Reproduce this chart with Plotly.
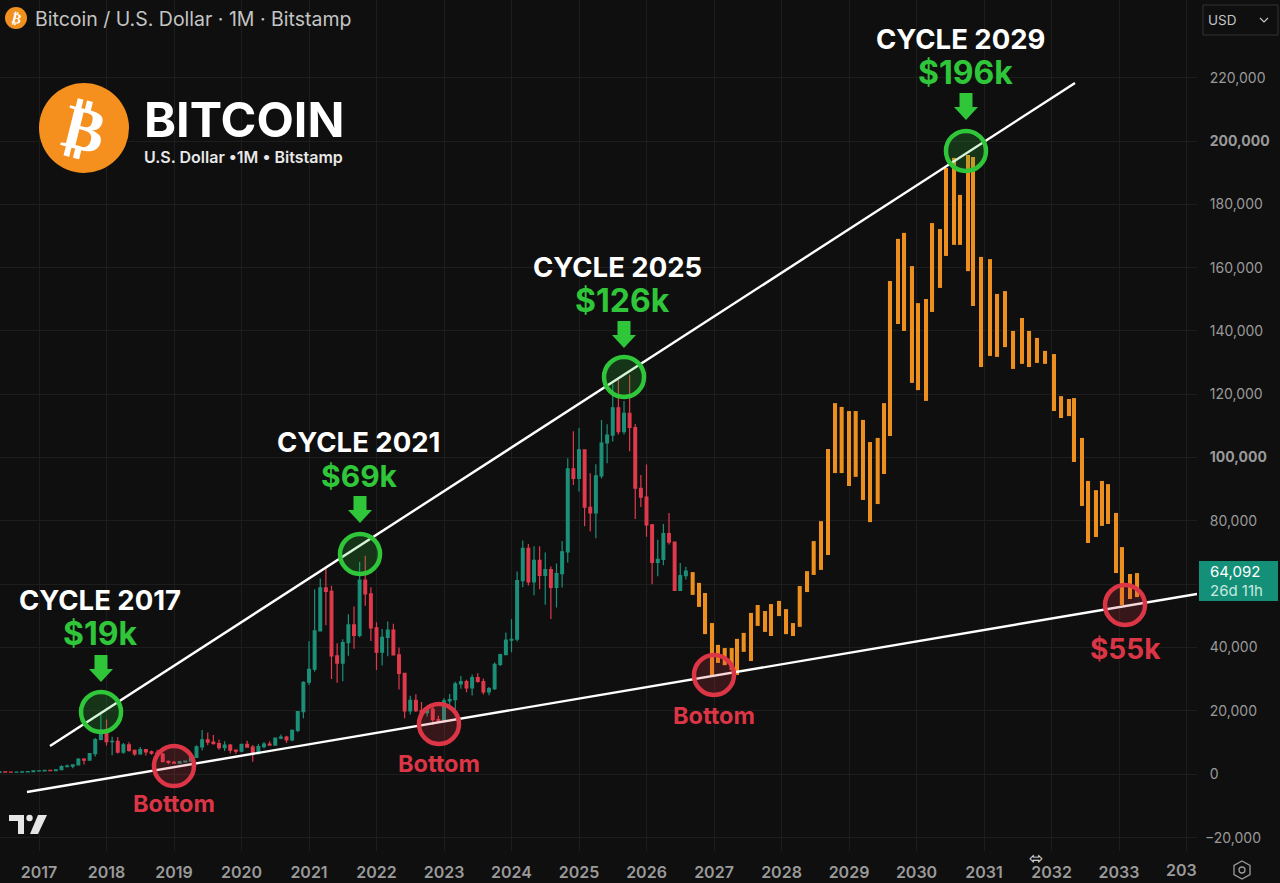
import plotly.graph_objects as go

# Monthly candles, one per month starting June 2016
candle_start = 2016 + 5 / 12
candle_open = [
    531, 672, 624, 575, 608, 700, 745,
    965, 970, 1190, 1080, 1350, 2300, 2480, 2870, 4730, 4340, 6450, 10900,
    13880, 10260, 10300, 6925, 9240, 7490, 6390, 7730, 7010, 6625, 6300, 4020,
    3690, 3440, 3815, 4100, 5265, 8550, 10820, 10090, 9590, 8290, 9150, 7540,
    7190, 9350, 8520, 6410, 8620, 9450, 9135, 11350, 11650, 10780, 13800, 19700,
    29000, 33100, 45200, 58800, 57700, 37300, 35040, 41490, 47100, 43800, 61300, 56900,
    46200, 38480, 43170, 45500, 37640, 31800, 19930, 23300, 20050, 19420, 20490, 17170,
    16530, 23130, 23480, 28470, 29230, 27210, 30470, 29230, 25940, 26960, 34650, 37720,
    42280, 42580, 61130, 71280, 60670, 67490, 62770, 64620, 58970, 63330, 70200, 96400,
    93400, 102400, 84300, 82500, 94200, 104600, 107100, 115700, 108200, 114000, 109500, 90300,
    87500, 78700, 66900, 67800, 76000, 73300, 58000, 62700,
]
candle_high = [
    775, 700, 625, 630, 740, 775, 975,
    1150, 1200, 1290, 1350, 2760, 2980, 2915, 4980, 4980, 6450, 11400, 19666,
    17200, 11790, 11700, 9760, 10000, 7770, 8500, 7750, 7400, 7680, 6600, 4230,
    4070, 4180, 4130, 5640, 9070, 13880, 13140, 12320, 10900, 10370, 9510, 7750,
    9580, 10500, 9190, 9460, 10080, 10380, 11440, 12480, 12080, 14100, 19900, 29300,
    41950, 58350, 61780, 64900, 59500, 41300, 42590, 50500, 52900, 67000, 69000, 59000,
    47950, 45800, 48200, 47450, 40000, 31960, 24700, 25200, 22790, 20990, 21480, 18380,
    23900, 25250, 29190, 31000, 29800, 31440, 31800, 30200, 27480, 35200, 38000, 44700,
    48970, 64000, 73800, 72700, 71950, 71940, 70000, 65600, 66500, 73600, 99800, 108300,
    109350, 102500, 95000, 97900, 111900, 110500, 123200, 124500, 117900, 126200, 110600, 94500,
    97800, 79000, 74000, 79000, 82500, 73400, 66700, 65500,
]
candle_low = [
    520, 460, 465, 570, 600, 680, 740,
    750, 935, 890, 1080, 1350, 2100, 1830, 2700, 2970, 4160, 5500, 10700,
    9000, 5900, 6500, 6430, 7000, 5750, 6070, 5880, 6100, 6200, 3650, 3120,
    3340, 3390, 3670, 4090, 5330, 7450, 9100, 9350, 7700, 7300, 6500, 6430,
    6860, 8410, 3850, 6150, 8100, 8900, 8950, 10980, 9820, 10370, 13200, 17600,
    28130, 32300, 45000, 47000, 30000, 28800, 29300, 37330, 39600, 43200, 53200, 42000,
    32900, 34300, 37200, 37700, 26700, 17600, 18800, 19600, 18200, 18200, 15480, 16300,
    16500, 21400, 19550, 26940, 25800, 24800, 28860, 25160, 24900, 26540, 34100, 37630,
    38500, 41880, 59000, 59600, 56500, 58400, 53500, 49000, 52600, 58900, 66800, 91300,
    89250, 78250, 76600, 74500, 93350, 98200, 105100, 107300, 107300, 102000, 80600, 84400,
    75000, 60000, 62500, 66000, 72500, 57900, 57900, 61500,
]
candle_close = [
    672, 624, 575, 608, 700, 745, 965,
    970, 1190, 1080, 1350, 2300, 2480, 2870, 4730, 4340, 6450, 10900, 13880,
    10260, 10300, 6925, 9240, 7490, 6390, 7730, 7010, 6625, 6300, 4020, 3690,
    3440, 3815, 4100, 5265, 8550, 10820, 10090, 9590, 8290, 9150, 7540, 7190,
    9350, 8520, 6410, 8620, 9450, 9135, 11350, 11650, 10780, 13800, 19700, 29000,
    33100, 45200, 58800, 57700, 37300, 35040, 41490, 47100, 43800, 61300, 56900, 46200,
    38480, 43170, 45500, 37640, 31800, 19930, 23300, 20050, 19420, 20490, 17170, 16530,
    23130, 23480, 28470, 29230, 27210, 30470, 29230, 25940, 26960, 34650, 37720, 42280,
    42580, 61130, 71280, 60670, 67490, 62770, 64620, 58970, 63330, 70200, 96400, 93400,
    102400, 84300, 82500, 94200, 104600, 107100, 115700, 108200, 114000, 109500, 90300, 87500,
    78700, 66900, 67800, 76000, 73300, 58000, 62700, 64092,
]
candle_x = [candle_start + i / 12 for i in range(len(candle_open))]

# Orange projection bars
proj_year = [
    2026.684, 2026.778, 2026.867, 2026.970, 2027.059, 2027.159, 2027.262, 2027.341,
    2027.440, 2027.548, 2027.647, 2027.756, 2027.844, 2027.963, 2028.067, 2028.170,
    2028.270, 2028.378, 2028.477, 2028.585, 2028.689, 2028.793, 2028.891, 2029.000,
    2029.099, 2029.207, 2029.311, 2029.425, 2029.519, 2029.607, 2029.726, 2029.815,
    2029.933, 2030.022, 2030.141, 2030.230, 2030.348, 2030.437, 2030.556, 2030.644,
    2030.763, 2030.837, 2030.956, 2031.089, 2031.193, 2031.311, 2031.430, 2031.563,
    2031.667, 2031.785, 2031.904, 2032.037, 2032.141, 2032.259, 2032.333, 2032.452,
    2032.541, 2032.659, 2032.748, 2032.837, 2032.956, 2033.044, 2033.163, 2033.267,
]
proj_high = [
    63800, 60400, 57200, 47700, 40800, 39800, 39800, 42700,
    44600, 50900, 53400, 51500, 53700, 54700, 52100, 47700,
    59400, 64100, 73600, 79900, 102700, 117200, 116000, 114700,
    114700, 111900, 104900, 106200, 117200, 155800, 169100, 171000,
    160500, 148800, 150100, 174100, 172200, 191500, 194700, 183000,
    195600, 195000, 163400, 162700, 151700, 152600, 140000, 144100,
    140000, 137800, 133700, 132700, 119400, 118500, 118800, 106200,
    92600, 89700, 92600, 91600, 82500, 71700, 63200, 63500,
]
proj_low = [
    56600, 52800, 44200, 30700, 35100, 34400, 32900, 31300,
    38600, 35700, 46800, 44900, 43600, 49900, 44200, 43600,
    46500, 57500, 62900, 64500, 69200, 95100, 95100, 91000,
    93900, 86600, 79600, 85300, 94800, 106800, 142200, 140000,
    123600, 121300, 117900, 146000, 153600, 163700, 167200, 167200,
    158900, 147900, 128600, 132100, 131800, 134900, 128000, 129600,
    128600, 129900, 129600, 114700, 112500, 113100, 98600, 84700,
    73000, 74900, 78400, 79000, 63500, 53400, 55300, 55900,
]

# Trend lines
upper_x = [2017.163, 2032.348]
upper_y = [8850, 218350]
lower_x = [2016.822, 2034.156]
lower_y = [-5700, 56900]

# Circled tops and bottoms
top_x = [2017.919, 2021.756, 2025.667, 2030.733]
top_y = [19600, 69500, 125450, 196900]
bottom_x = [2019.0, 2022.926, 2027.0, 2033.089]
bottom_y = [2500, 15800, 31300, 53400]

year_ticks = list(range(2017, 2035))
year_labels = [str(y) for y in range(2017, 2034)] + [""]
price_ticks = list(range(-20000, 220001, 20000))
# 60,000 sits behind the price tag and -20,000 hangs left, drawn separately
price_labels = []
for p in price_ticks:
    if p in (100000, 200000):
        price_labels.append("<b>%s</b>" % format(p, ","))
    elif p in (60000, -20000):
        price_labels.append("")
    else:
        price_labels.append(format(p, ","))

BG = "#0f0f0f"
GRID = "#1d1d1d"
TEAL = "#1c8f78"
RED = "#e03a4c"
ORANGE = "#ec8f1e"
GREEN = "#2fc63a"
ALERT = "#dc3545"
FONT = "Inter"

PLOT_W = 1197
PLOT_H = 851


def px_x(px):
    return px / PLOT_W


def px_y(py):
    return (PLOT_H - py) / PLOT_H


def path(points, close=True):
    s = "M " + " L ".join("%.5f,%.5f" % (px_x(a), px_y(b)) for a, b in points)
    return s + (" Z" if close else "")


fig = go.Figure()

fig.add_trace(go.Candlestick(
    x=candle_x, open=candle_open, high=candle_high, low=candle_low, close=candle_close,
    increasing=dict(line=dict(color=TEAL, width=1.2), fillcolor=TEAL),
    decreasing=dict(line=dict(color=RED, width=1.2), fillcolor=RED),
    whiskerwidth=0,
    showlegend=False,
))

fig.add_trace(go.Bar(
    x=proj_year,
    y=[h - l for h, l in zip(proj_high, proj_low)],
    base=proj_low,
    width=0.06,
    marker=dict(color=ORANGE, line=dict(width=0)),
    showlegend=False,
))

for lx, ly in [(upper_x, upper_y), (lower_x, lower_y)]:
    fig.add_trace(go.Scatter(
        x=lx, y=ly, mode="lines",
        line=dict(color="#ffffff", width=2.4),
        showlegend=False,
    ))

fig.add_trace(go.Scatter(
    x=top_x, y=top_y, mode="markers",
    marker=dict(size=40, color="rgba(47,198,58,0.2)", line=dict(color=GREEN, width=4.5)),
    showlegend=False,
))
fig.add_trace(go.Scatter(
    x=bottom_x, y=bottom_y, mode="markers",
    marker=dict(size=40, color="rgba(220,53,69,0.2)", line=dict(color=ALERT, width=4.5)),
    showlegend=False,
))


def add_text(px, py, text, size, color, weight=400, anchor="center", angle=0, family=FONT):
    fig.add_annotation(
        xref="paper", yref="paper", x=px_x(px), y=px_y(py), text=text,
        showarrow=False, xanchor=anchor, yanchor="middle", borderpad=0, textangle=angle,
        font=dict(family=family, size=size, color=color, weight=weight),
    )


def add_shape_path(points, fill, line=None, close=True, width=1):
    fig.add_shape(
        type="path", xref="paper", yref="paper", path=path(points, close),
        fillcolor=fill if close else None,
        line=dict(color=line or "rgba(0,0,0,0)", width=width if line else 0),
    )


def add_disc(cx, cy, r, fill):
    fig.add_shape(
        type="circle", xref="paper", yref="paper",
        x0=px_x(cx - r), x1=px_x(cx + r), y0=px_y(cy + r), y1=px_y(cy - r),
        fillcolor=fill, line=dict(width=0),
    )


# cycle labels: title, price, title centre, price centre, arrow centre, and their heights
labels = [
    ("CYCLE 2017", "$19k", 100, 100, 101, 600, 633, 668, 32),
    ("CYCLE 2021", "$69k", 358, 359, 360, 442, 476, 509, 30),
    ("CYCLE 2025", "$126k", 617, 622, 624, 267, 300, 334, 32),
    ("CYCLE 2029", "$196k", 960, 965, 966, 39, 72, 106, 32),
]
for title, price, tx, px, ax, ty, py, ay, psize in labels:
    add_text(tx, ty, title, 27.5, "#ffffff", 700)
    add_text(px, py, price, psize, GREEN, 700)
    add_shape_path([
        (ax - 6.5, ay - 13), (ax + 6.5, ay - 13), (ax + 6.5, ay + 1), (ax + 12, ay + 1),
        (ax, ay + 14), (ax - 12, ay + 1), (ax - 6.5, ay + 1),
    ], GREEN)

add_text(174, 803, "Bottom", 23.5, ALERT, 700)
add_text(439, 763, "Bottom", 23.5, ALERT, 700)
add_text(714, 715, "Bottom", 23.5, ALERT, 700)
add_text(1125, 649, "$55k", 28, ALERT, 700)

# header and logo
add_disc(16, 18, 11, "#f0901e")
add_text(16, 18, "\u20bf", 14, "#ffffff", 700, angle=14, family="DejaVu Sans")
add_text(34, 19, "Bitcoin / U.S. Dollar \u00b7 1M \u00b7 Bitstamp", 19.5, "#c4c4c4", 400, "left")

add_disc(84, 128, 45, "#f58f1e")
add_text(84, 128, "\u20bf", 62, "#ffffff", 700, angle=14, family="DejaVu Sans")
add_text(143, 120, "BITCOIN", 48.5, "#ffffff", 700, "left")
add_text(143, 157, "U.S. Dollar \u20221M \u2022 Bitstamp", 16, "#e8e8e8", 600, "left")

# tradingview mark
add_shape_path([(9, 815), (24, 815), (24, 834), (18, 834), (18, 821), (9, 821)], "#e6e6e6")
add_disc(29.5, 818, 3.2, "#e6e6e6")
add_shape_path([(38, 815), (47, 815), (38, 834), (30, 834)], "#e6e6e6")

# price tag
fig.add_shape(type="rect", xref="paper", yref="paper", x0=px_x(1199), x1=px_x(1278),
              y0=px_y(601), y1=px_y(561), fillcolor="#149078", line=dict(width=0))
add_text(1209, 571, "64,092", 15, "#ffffff", 400, "left")
add_text(1209, 590, "26d 11h", 15, "#c8e8e0", 400, "left")

# USD button
fig.add_shape(type="rect", xref="paper", yref="paper", x0=px_x(1203), x1=px_x(1278),
              y0=px_y(35), y1=px_y(5), fillcolor=BG, line=dict(color="#333333", width=1))
add_text(1207, 20, "USD", 13.5, "#c4c4c4", 400, "left")
add_shape_path([(1260, 18), (1264, 22), (1268, 18)], None, "#c4c4c4", close=False, width=1.2)

# settings hexagon and cursor
add_shape_path([(1242, 861), (1250, 865.5), (1250, 874.5), (1242, 879), (1234, 874.5), (1234, 865.5)],
               BG, "#9a9a9a", width=1.3)
fig.add_shape(type="circle", xref="paper", yref="paper", x0=px_x(1239), x1=px_x(1245),
              y0=px_y(873), y1=px_y(867), line=dict(color="#9a9a9a", width=1.3))
add_text(1036, 858, "\u2b04", 17, "#e8e8e8")

add_text(1181, 870, "203", 16, "#9a9a9a", 600)
add_text(1262, 837, "\u221220,000", 14, "#9a9a9a", 400, "right")

fig.update_layout(
    width=1280,
    height=883,
    paper_bgcolor=BG,
    plot_bgcolor=BG,
    margin=dict(l=0, r=83, t=0, b=32),
    showlegend=False,
    barmode="overlay",
    xaxis=dict(
        range=[2016.4222, 2034.1556],
        tickvals=year_ticks,
        ticktext=year_labels,
        gridcolor=GRID,
        gridwidth=1,
        zeroline=False,
        showline=False,
        rangeslider=dict(visible=False),
        ticks="outside",
        ticklen=7,
        tickcolor=BG,
        tickfont=dict(family=FONT, size=16, color="#9a9a9a", weight=600),
    ),
    yaxis=dict(
        range=[-24332, 244584],
        side="right",
        tickvals=price_ticks,
        ticktext=price_labels,
        gridcolor=GRID,
        gridwidth=1,
        zeroline=False,
        showline=False,
        ticks="outside",
        ticklen=9,
        tickcolor=BG,
        tickfont=dict(family=FONT, size=14, color="#9a9a9a"),
    ),
)

fig.write_html(
    "out.html",
    config=dict(displayModeBar=False),
    post_script="document.body.style.margin='0';document.body.style.overflow='hidden';",
)
print("Success")
